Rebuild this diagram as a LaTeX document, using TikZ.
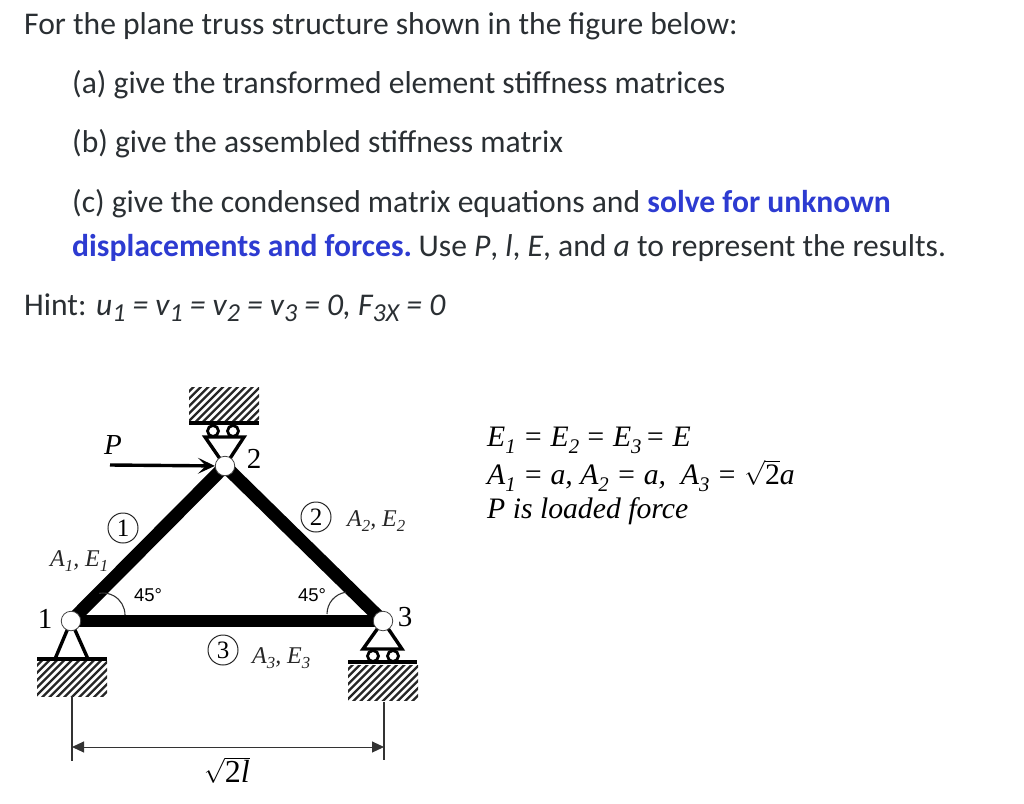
\documentclass[tikz,border=0pt]{standalone}
\usepackage{fontspec}
\usepackage{xcolor}
\usepackage{tikz}
\usetikzlibrary{arrows.meta,backgrounds}
\setmainfont{Carlito}
\newfontfamily\timesfont{Liberation Serif}
\newfontfamily\arialfont{Liberation Sans}
\definecolor{hintblue}{HTML}{2D3BD1}
\definecolor{bodytext}{HTML}{2A2F33}
\newcommand{\idx}[1]{\raisebox{-.24em}{\scalebox{.7}{#1}}}
\newcommand{\hdx}[1]{\raisebox{-.22em}{\scalebox{.82}{#1}}}
\newcommand{\rootfig}[1]{$\sqrt{\mbox{#1}}$}
\tikzset{
  prose/.style={anchor=base west, inner sep=0pt, text=bodytext, font=\fontsize{31.6}{31.6}\selectfont},
  figtext/.style={inner sep=0pt, font=\timesfont\fontsize{29}{29}\selectfont},
  proptext/.style={anchor=base west, inner sep=0pt, text=black!85, font=\timesfont\itshape\fontsize{24}{24}\selectfont},
  datatext/.style={anchor=base west, inner sep=0pt, font=\timesfont\itshape\fontsize{29.7}{29.7}\selectfont},
  angletext/.style={inner sep=0pt, font=\arialfont\fontsize{18.5}{18.5}\selectfont},
  joint/.style={circle, draw=black!75, line width=.8pt, fill=white, minimum size=19.5pt, inner sep=0pt},
  roller/.style={circle, draw=black, line width=2.8pt, fill=white, minimum size=11pt, inner sep=0pt},
  tag/.style={circle, draw=black!85, line width=1pt, minimum size=30pt, inner sep=0pt, font=\timesfont\fontsize{25}{25}\selectfont},
  member/.style={line width=13pt, black},
  chord/.style={line width=12pt, black},
  pinline/.style={line width=3.4pt, black},
  thinline/.style={line width=1.1pt, black!80},
  dimarrow/.style={line width=1pt, black!80, {Triangle[length=12pt,width=11pt]}-{Triangle[length=12pt,width=11pt]}}
}
\newcommand{\hatchbox}[4]{%
  \begin{scope}
    \clip (#1,#2) rectangle (#3,#4);
    \foreach \s in {0,7.4,...,130} {
      \draw [line width=2.3pt, black!85] (#1-40+\s,#4+2) -- ++(40,-40);
    }
  \end{scope}
}
\begin{document}
\begin{tikzpicture}[x=1pt,y=-1pt]
        \useasboundingbox (0,0) rectangle (1024,803);

        %Question
        \node [prose] (title) at (24,34) {For the plane truss structure shown in the figure below:};
        \node [prose] (parta) at (72,93) {(a) give the transformed element stiffness matrices};
        \node [prose] (partb) at (72,152) {(b) give the assembled stiffness matrix};
        \node [prose] (partc) at (72,212) {(c) give the condensed matrix equations and \textcolor{hintblue}{\bfseries solve for unknown}};
        \node [prose] (partd) at (72,256) {\textcolor{hintblue}{\bfseries displacements and forces.}\hspace{-3pt} Use \textit{P}, \textit{l}, \textit{E}, and \textit{a} to represent the results.};
        \node [prose] (hint) at (24,315) {Hint: \textit{u\hdx{1} = v\hdx{1} = v\hdx{2} = v\hdx{3} = 0, F\hdx{3X} = 0}};

        %Joints
        \node [joint] (n1) at (71,621) {};
        \node [joint] (n2) at (225,466) {};
        \node [joint] (n3) at (383,621) {};

        %Members
        \begin{scope}[on background layer]
          \draw [member] (n1.center) -- (n2.center);
          \draw [member] (n2.center) -- (n3.center);
          \draw [chord] (n1.center) -- (n3.center);
          \draw [pinline] (55,659) -- (n1.center) -- (88,659);
          \draw [pinline] (205,437) -- (n2.center) -- (244,437) -- cycle;
          \draw [pinline] (363,649) -- (n3.center) -- (402,649) -- cycle;
        \end{scope}

        %Supports
        \hatchbox{37}{661}{107}{696}
        \hatchbox{189}{387}{259}{422}
        \hatchbox{348}{665}{418}{700}
        \draw [pinline] (37,659) -- (107,659);
        \draw [pinline] (189,423) -- (259,423);
        \draw [pinline] (348,662) -- (417,662);
        \node [roller] (r2a) at (213,431) {};
        \node [roller] (r2b) at (233,431) {};
        \node [roller] (r3a) at (373,656) {};
        \node [roller] (r3b) at (393,656) {};

        %Load
        \coordinate (ptail) at (110,465);
        \draw [line width=3.4pt, -{Stealth[length=17pt,width=16pt,inset=8pt]}] (ptail) -- (n2);
        \node [figtext] (pname) at (113,445) {\itshape P};

        %Angles
        \draw [thinline] (125,615) arc (0:-100:22);
        \draw [thinline] (327,614) arc (180:262:22);
        \node [angletext] (leftangle) at (148,595) {45°};
        \node [angletext] (rightangle) at (312,595) {45°};

        %Numbers
        \node [figtext] (n1name) at (45,619) {1};
        \node [figtext] (n2name) at (254,459) {2};
        \node [figtext] (n3name) at (405,617) {3};
        \node [tag] (tag1) at (123,528) {1};
        \node [tag] (tag2) at (316,517) {2};
        \node [tag] (tag3) at (223,650) {3};
        \node [proptext] (prop1) at (50,566) {A\idx{1}, E\idx{1}};
        \node [proptext] (prop2) at (347,526) {A\idx{2}, E\idx{2}};
        \node [proptext] (prop3) at (252,663) {A\idx{3}, E\idx{3}};

        %Span
        \coordinate (spanleft) at (72,696);
        \coordinate (spanright) at (384,702);
        \draw [thinline] (spanleft) -- (72,761);
        \draw [thinline] (spanright) -- (384,760);
        \coordinate (dimleft) at (72,747);
        \coordinate (dimright) at (384,747);
        \draw [dimarrow] (dimleft) -- (dimright);
        \node [figtext, font=\timesfont\fontsize{32}{32}\selectfont] (spanname) at (227,770) {\rootfig{\raisebox{-1.5pt}{2\textit{l}}}};

        %Data
        \node [datatext] (dataE) at (487,446) {E\idx{1} = E\idx{2}\hspace{-1pt} = E\idx{3}\hspace{-4pt} = E};
        \node [datatext] (dataA) at (487,484) {A\idx{1} = a, A\idx{2} = a,\ \ A\idx{3} = \rootfig{\upshape 2}a};
        \node [datatext] (dataP) at (487,518) {P is loaded force};
      \end{tikzpicture}
\end{document}
